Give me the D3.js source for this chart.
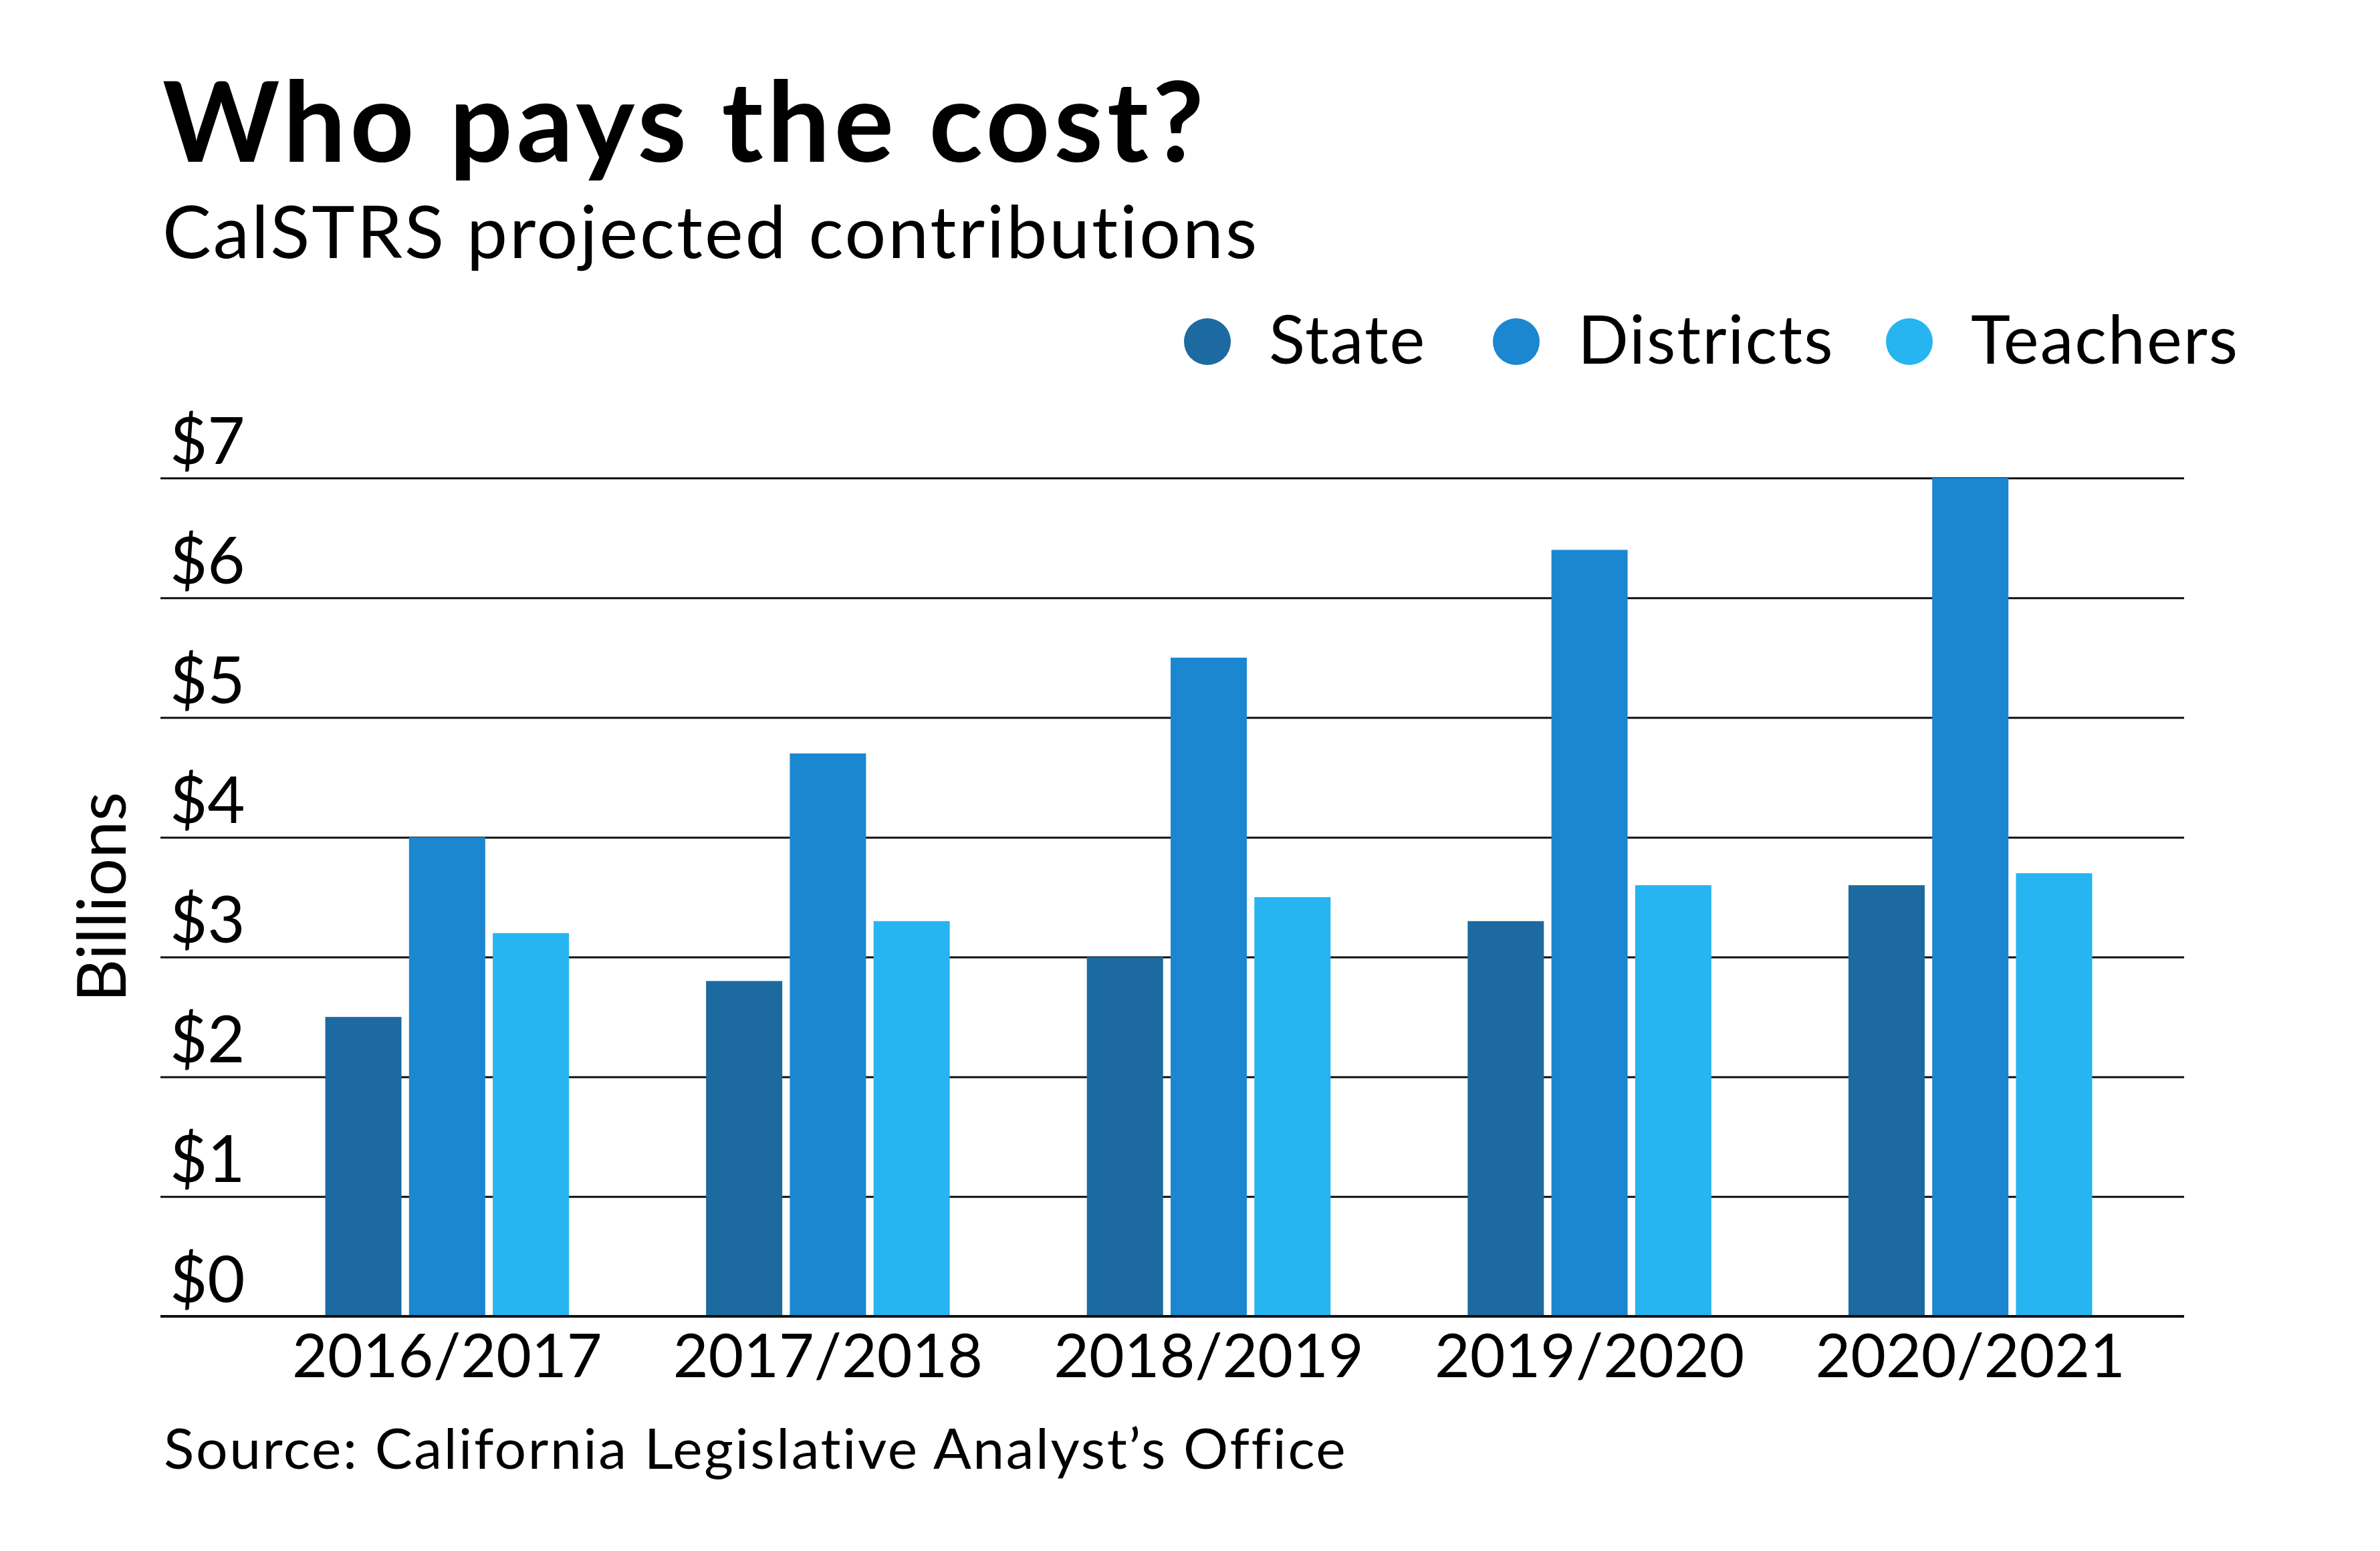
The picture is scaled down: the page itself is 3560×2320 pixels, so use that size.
<html>

<head>
    <script src="https://d3js.org/d3.v7.min.js"></script>
    <style>
        body {
            margin: 0;
            background: #fff;
        }

        text {
            font-family: Lato, "Open Sans", sans-serif;
            fill: #000;
        }

        .gridlines line {
            stroke: #111;
            stroke-width: 3;
        }

        .gridlines .domain {
            display: none;
        }
    </style>
</head>

<body>
    <svg height="2320" width="3560" id="chart"></svg>
    <script>
        // chart data
        const years = ["2016/2017", "2017/2018", "2018/2019", "2019/2020", "2020/2021"];
        const groups = ["State", "Districts", "Teachers"];
        const stateVals = [2.5, 2.8, 3.0, 3.3, 3.6];
        const districtVals = [4.0, 4.7, 5.5, 6.4, 7.0];
        const teacherVals = [3.2, 3.3, 3.5, 3.6, 3.7];
        const yTicks = [0, 1, 2, 3, 4, 5, 6, 7];
        const colors = ["#1c6aa0", "#1b87d1", "#26b5f0"];

        const svg = d3.select("#chart");
        const width = +svg.attr("width");
        const height = +svg.attr("height");

        svg.append("rect").attr("width", width).attr("height", height).attr("fill", "#fff");

        // plot area
        const gridLeft = 240, gridRight = 3267;
        const plotTop = 715, plotBottom = 1969;

        const tableData = years.map((y, i) => ({
            year: y,
            State: stateVals[i],
            Districts: districtVals[i],
            Teachers: teacherVals[i]
        }));

        const xScale = d3.scaleBand().domain(years)
            .range([384, 3232])
            .paddingInner(0.36)
            .paddingOuter(0.18);

        const subScale = d3.scaleBand().domain(groups)
            .range([0, xScale.bandwidth()])
            .paddingInner(0.09);

        const yScale = d3.scaleLinear().domain([0, 7])
            .range([plotBottom, plotTop]);

        const colorScale = d3.scaleOrdinal().domain(groups).range(colors);

        // titles
        svg.append("text")
            .attr("x", 243)
            .attr("y", 242)
            .style("font-size", "167px")
            .style("font-weight", 700)
            .style("letter-spacing", "6px")
            .text("Who pays the cost?");

        svg.append("text")
            .attr("x", 243)
            .attr("y", 386)
            .style("font-size", "109px")
            .style("font-weight", 400)
            .style("letter-spacing", "3px")
            .text("CalSTRS projected contributions");

        // legend
        const legendX = [1806, 2268, 2856];
        let legend = svg.append("g").attr("class", "legend");
        groups.forEach((g, i) => {
            legend.append("circle")
                .attr("cx", legendX[i])
                .attr("cy", 511)
                .attr("r", 35)
                .attr("fill", colorScale(g));
            legend.append("text")
                .attr("x", legendX[i] + 92)
                .attr("y", 544)
                .style("font-size", "100px")
                .style("letter-spacing", "2px")
                .text(g);
        });

        // gridlines + y labels
        let leftGridLines = d3.axisLeft(yScale)
            .tickValues(yTicks)
            .tickFormat(d => "$" + d)
            .tickSize(-(gridRight - gridLeft));
        let yAxis = svg.append("g")
            .attr("class", "y gridlines")
            .attr("transform", `translate(${gridLeft},0)`)
            .call(leftGridLines);
        yAxis.selectAll("text")
            .attr("x", 14)
            .attr("y", -22)
            .attr("dy", 0)
            .attr("text-anchor", "start")
            .style("font-size", "97px")
            .style("font-family", "Lato, sans-serif");

        // bars
        let barGroups = svg.append("g").selectAll("g").data(tableData)
            .join("g")
            .attr("transform", d => `translate(${xScale(d.year)},0)`);

        barGroups.selectAll("rect")
            .data(d => groups.map(g => ({ key: g, value: d[g] })))
            .join("rect")
            .attr("x", d => subScale(d.key))
            .attr("width", subScale.bandwidth())
            .attr("y", d => yScale(d.value))
            .attr("height", d => yScale(0) - yScale(d.value))
            .attr("fill", d => colorScale(d.key));

        // baseline
        svg.append("line")
            .attr("x1", gridLeft).attr("x2", gridRight)
            .attr("y1", yScale(0)).attr("y2", yScale(0))
            .attr("stroke", "#111")
            .attr("stroke-width", 4);

        // x labels
        let bottomAxis = d3.axisBottom(xScale).tickSize(0);
        let xAxis = svg.append("g")
            .attr("transform", `translate(0,${plotBottom})`)
            .call(bottomAxis);
        xAxis.select(".domain").remove();
        xAxis.selectAll("text")
            .attr("y", 91)
            .attr("dy", 0)
            .style("font-size", "91px")
            .style("font-family", "Lato, sans-serif");

        // y axis title
        svg.append("text")
            .attr("text-anchor", "middle")
            .attr("transform", "translate(188,1342) rotate(-90)")
            .style("font-size", "100px")
            .text("Billions");

        // source
        svg.append("text")
            .attr("x", 245)
            .attr("y", 2197)
            .style("font-size", "84px")
            .style("letter-spacing", "2.6px")
            .text("Source: California Legislative Analyst\u2019s Office");
    </script>
</body>

</html>
